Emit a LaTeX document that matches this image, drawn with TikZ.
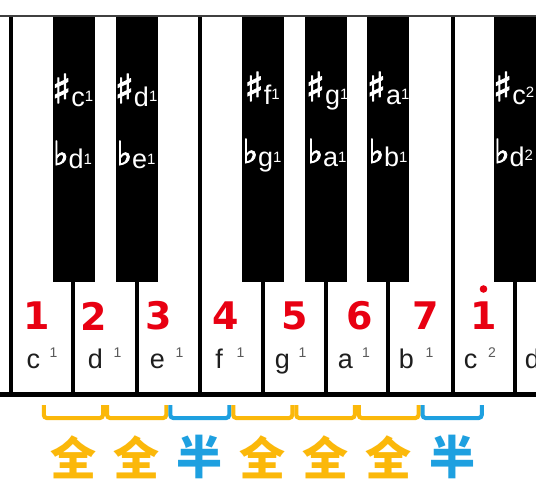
\documentclass[tikz,border=0pt]{standalone}
\usepackage{fontspec}
\setmainfont{Liberation Sans}
\newfontfamily\digf{DejaVu Sans}
\newfontfamily\symf[FakeBold=2.5]{DejaVu Sans}
\newfontfamily\blf{Liberation Sans}
\newfontfamily\cjk{Noto Sans CJK SC}
\definecolor{redn}{RGB}{232,0,18}
\definecolor{orng}{RGB}{251,184,10}
\definecolor{blu}{RGB}{30,160,224}
\definecolor{ltr}{RGB}{30,30,30}
\definecolor{sgr}{RGB}{90,90,90}
\newcommand\bksh[1]{{\symf\fontsize{40}{40}\selectfont\raisebox{#1}{♯}}}
\newcommand\bkfl[1]{{\symf\fontsize{33}{33}\selectfont\raisebox{#1}{♭}}}
\newcommand\bksup[2]{\raisebox{#2}{\fontsize{15}{15}\selectfont #1}}
\begin{document}
\begin{tikzpicture}[x=1pt,y=-1pt,
  every node/.style={inner sep=0pt,outer sep=0pt},
  sepline/.style={line width=4pt,draw=black},
  blackkey/.style={fill=black},
  bkt/.style={text=white,font=\blf\fontsize{27}{27}\selectfont,anchor=base},
  wlt/.style={text=ltr,font=\fontsize{27}{27}\selectfont,anchor=base},
  wst/.style={text=sgr,font=\fontsize{14}{14}\selectfont,anchor=base},
  num/.style={text=redn,font=\digf\bfseries\fontsize{38}{38}\selectfont},
  brk/.style={line width=4pt,rounded corners=3pt},
  cjkt/.style={font=\cjk\bfseries\fontsize{46}{46}\selectfont}]
\useasboundingbox (0,0) rectangle (536,485);
\fill[white] (0,0) rectangle (536,485);
\begin{scope}
\clip (0,0) rectangle (536,485);
% top rule
\draw[line width=2pt,draw=black!75] (0,15.5) -- (536,15.5);
% white key separators
\foreach \x in {10.5,73,137,199.5,263,325.5,388,453,514.5}
  \draw[sepline] (\x,16.5) -- (\x,395);
% bottom rule
\draw[line width=4.5pt] (0,394.5) -- (536,394.5);
% black keys
\foreach \cx in {73.5,136.5,263,326,387.5,515}
  \fill[blackkey] (\cx-21,16.5) rectangle (\cx+21,282);
% black key labels
\node[bkt] (s1) at (72.5,106) {\bksh{3pt}c\bksup{1}{5pt}};
\node[bkt] (s2) at (136,106) {\bksh{3pt}d\bksup{1}{5pt}};
\node[bkt] (s3) at (262,104) {\bksh{3pt}f\bksup{1}{5pt}};
\node[bkt] (s4) at (327,104) {\bksh{3pt}g\bksup{1}{5pt}};
\node[bkt] (s5) at (388,104) {\bksh{3pt}a\bksup{1}{5pt}};
\node[bkt] (s6) at (513.5,104) {\bksh{3pt}c\bksup{2}{7pt}};
\node[bkt] (f1) at (72.5,168) {\bkfl{3pt}d\bksup{1}{4pt}};
\node[bkt] (f2) at (136,168) {\bkfl{3pt}e\bksup{1}{4pt}};
\node[bkt] (f3) at (262,166) {\bkfl{3pt}g\bksup{1}{4pt}};
\node[bkt] (f4) at (327,166) {\bkfl{3pt}a\bksup{1}{4pt}};
\node[bkt] (f5) at (388,166) {\bkfl{3pt}b\bksup{1}{4pt}};
\node[bkt] (f6) at (513.5,166) {\bkfl{3pt}d\bksup{2}{6pt}};
% red numbers
\node[num] (n1) at (37,316) {1};
\node[num] (n2) at (94,316) {2};
\node[num] (n3) at (159,316) {3};
\node[num] (n4) at (226,316) {4};
\node[num] (n5) at (295,316) {5};
\node[num] (n6) at (360,316) {6};
\node[num] (n7) at (426,316) {7};
\node[num] (n8) at (483.5,316) {1};
\fill[redn] (483.5,289) circle (3.8);
% white key names
\node[wlt] (l1) at (33.5,368) {c};  \node[wst] (u1) at (53.5,357) {1};
\node[wlt] (l2) at (95.5,368) {d};  \node[wst] (u2) at (117.5,357) {1};
\node[wlt] (l3) at (157.5,368) {e}; \node[wst] (u3) at (179.5,357) {1};
\node[wlt] (l4) at (219,368) {f};   \node[wst] (u4) at (240.5,357) {1};
\node[wlt] (l5) at (282.5,368) {g}; \node[wst] (u5) at (302.5,357) {1};
\node[wlt] (l6) at (345.5,368) {a}; \node[wst] (u6) at (366,357) {1};
\node[wlt] (l7) at (406.5,368) {b}; \node[wst] (u7) at (429.5,357) {1};
\node[wlt] (l8) at (470.5,368) {c}; \node[wst] (u8) at (492,357) {2};
\node[wlt] (l9) at (532.5,368) {d};
% brackets
\draw[brk,orng] (43.75,405) -- (43.75,418) -- (103,418) -- (103,405);
\draw[brk,orng] (107,405) -- (107,418) -- (166.25,418) -- (166.25,405);
\draw[brk,blu] (170.25,405) -- (170.25,418) -- (229.25,418) -- (229.25,405);
\draw[brk,orng] (233.25,405) -- (233.25,418) -- (292.25,418) -- (292.25,405);
\draw[brk,orng] (296.25,405) -- (296.25,418) -- (354.75,418) -- (354.75,405);
\draw[brk,orng] (358.75,405) -- (358.75,418) -- (418.5,418) -- (418.5,405);
\draw[brk,blu] (422.5,405) -- (422.5,418) -- (481.75,418) -- (481.75,405);
% step names
\node[cjkt,text=orng] (q1) at (73.4,457) {全};
\node[cjkt,text=orng] (q2) at (136.6,457) {全};
\node[cjkt,text=blu] (q3) at (199.75,457) {半};
\node[cjkt,text=orng] (q4) at (262.75,457) {全};
\node[cjkt,text=orng] (q5) at (325.5,457) {全};
\node[cjkt,text=orng] (q6) at (388.6,457) {全};
\node[cjkt,text=blu] (q7) at (452.1,457) {半};
\end{scope}
\end{tikzpicture}
\end{document}
